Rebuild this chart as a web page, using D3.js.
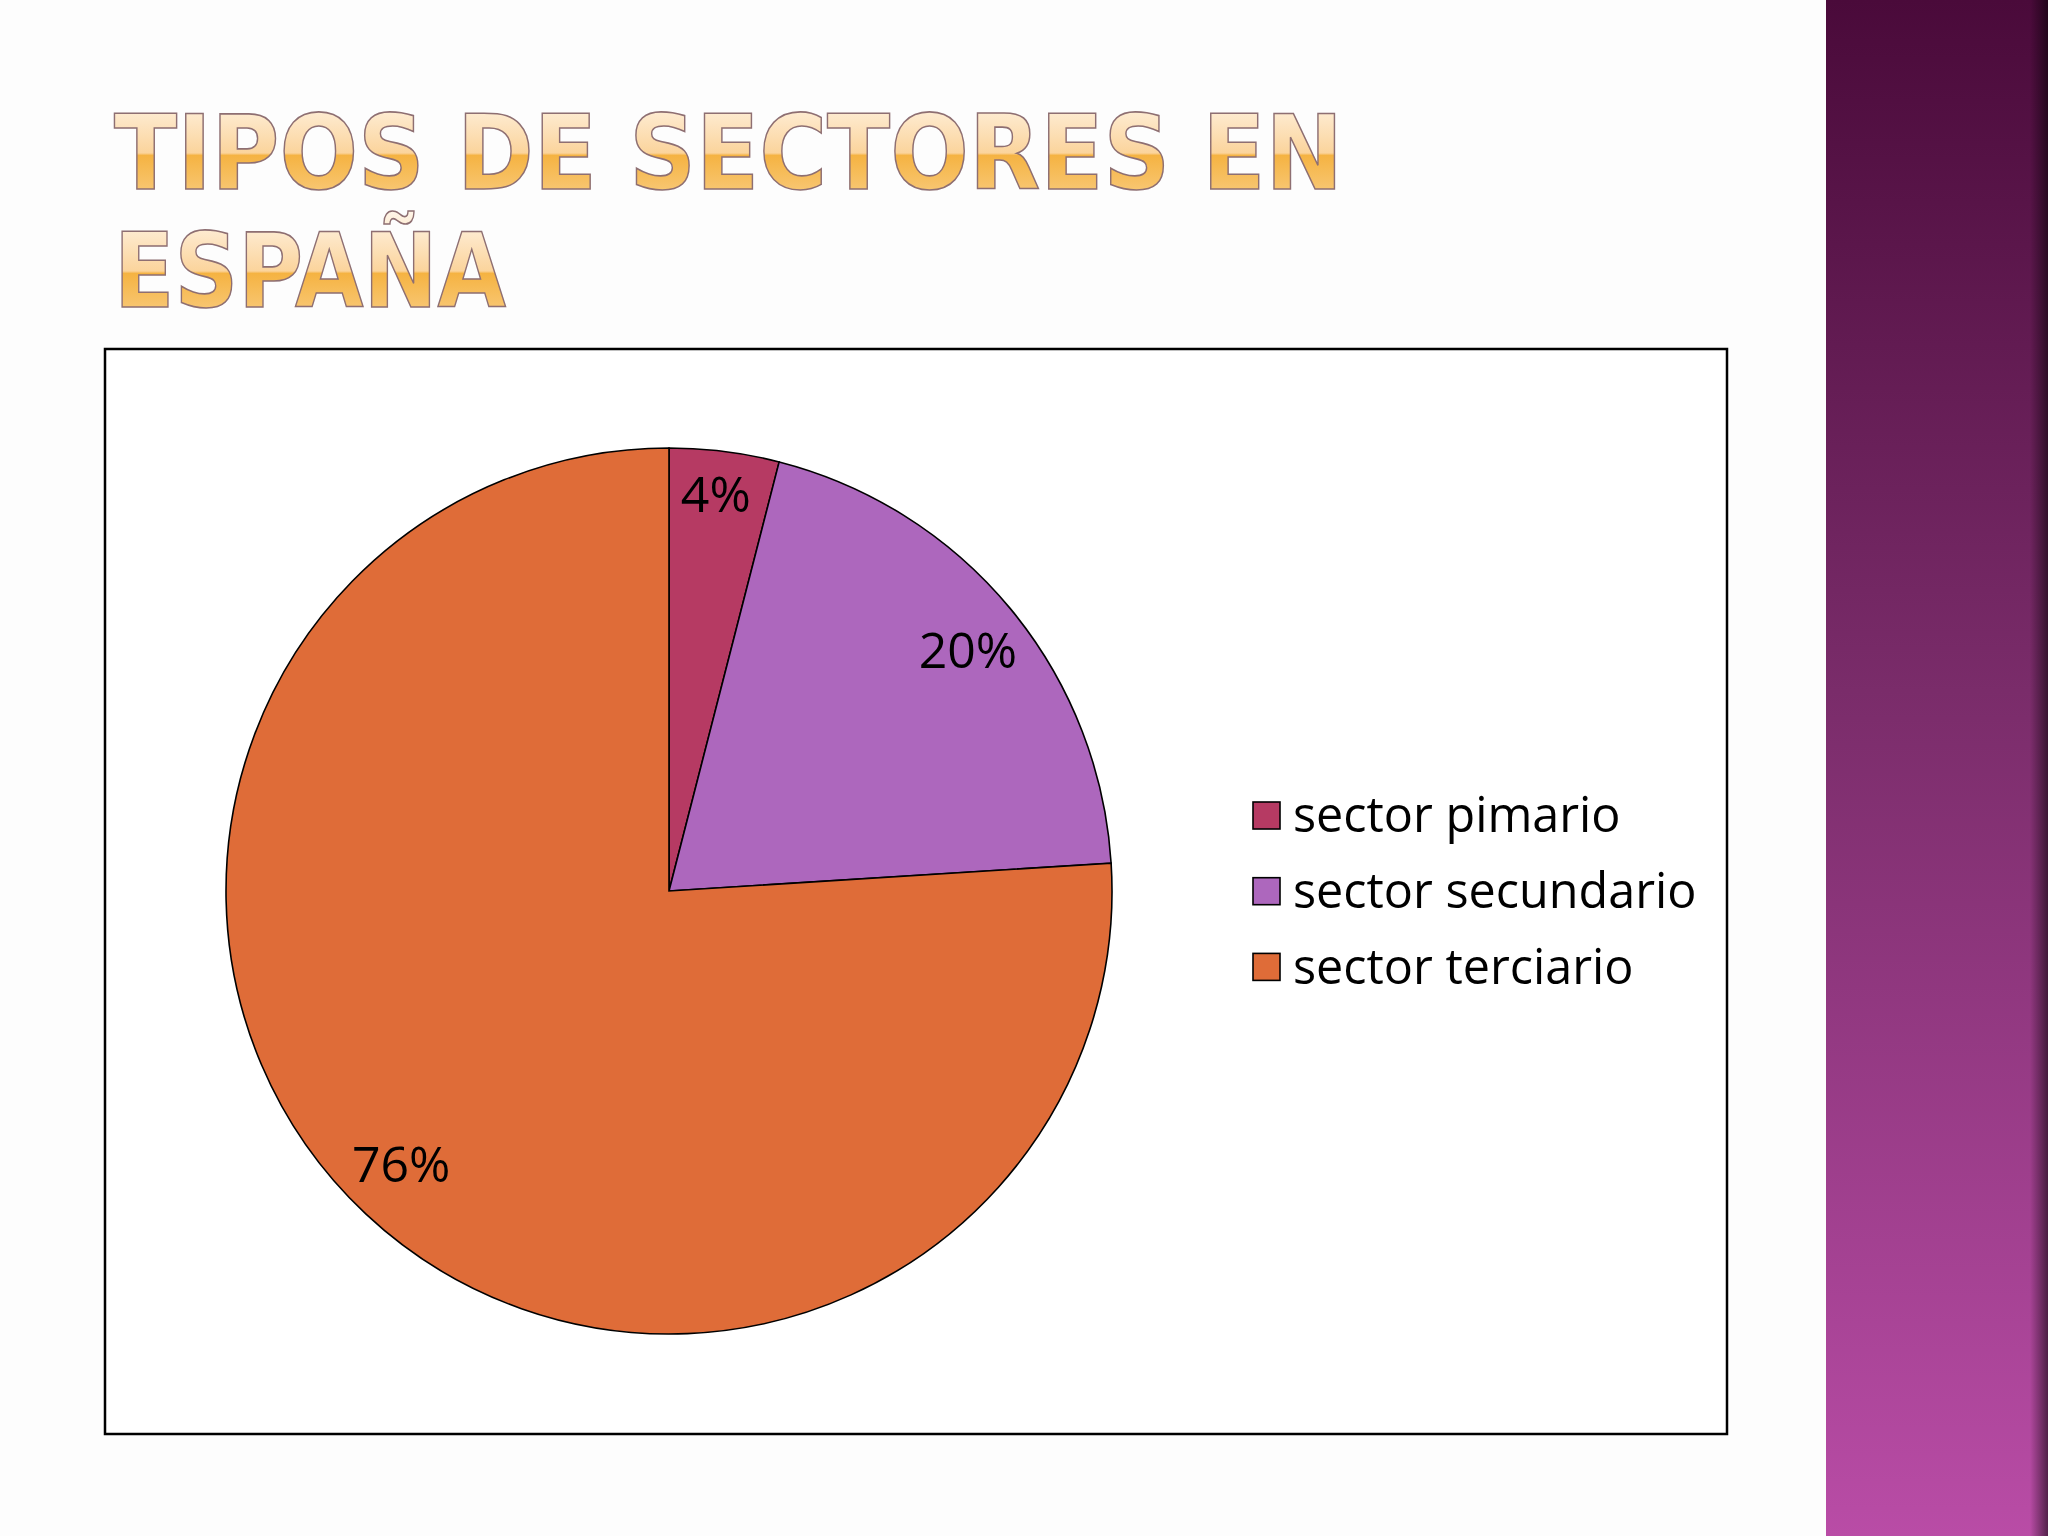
<!DOCTYPE html>
<html>
<head>
<meta charset="utf-8">
<script src="https://cdn.jsdelivr.net/npm/d3@7"></script>
<style>
  body { margin: 0; background: #fdfdfd; }
  svg { display: block; }
</style>
</head>
<body>
<div id="slide"></div>
<script>
// Data
const sectors = ["sector pimario", "sector secundario", "sector terciario"];
const shares = [4, 20, 76];
const colors = ["#b63a63", "#ad67bd", "#df6c38"];
const titleLines = ["TIPOS DE SECTORES EN", "ESPAÑA"];

const W = 2048, H = 1536;

const svg = d3.select("#slide")
    .append("svg")
    .attr("width", W)
    .attr("height", H);

const defs = svg.append("defs");

// sidebar gradient
const side = defs.append("linearGradient")
    .attr("id", "side").attr("x1", 0).attr("y1", 0).attr("x2", 0).attr("y2", 1);
side.append("stop").attr("offset", "0%").attr("stop-color", "#4a0a3a");
side.append("stop").attr("offset", "45%").attr("stop-color", "#7a2c6a");
side.append("stop").attr("offset", "100%").attr("stop-color", "#b94ca6");

const edge = defs.append("linearGradient")
    .attr("id", "edge").attr("x1", 0).attr("y1", 0).attr("x2", 1).attr("y2", 0);
edge.append("stop").attr("offset", "0%").attr("stop-color", "#000").attr("stop-opacity", 0);
edge.append("stop").attr("offset", "100%").attr("stop-color", "#000").attr("stop-opacity", 0.55);

// title gradient
const tg = defs.append("linearGradient")
    .attr("id", "titleFill").attr("x1", 0).attr("y1", 0).attr("x2", 0).attr("y2", 1);
tg.append("stop").attr("offset", "0%").attr("stop-color", "#fff6ea");
tg.append("stop").attr("offset", "50%").attr("stop-color", "#fbd49c");
tg.append("stop").attr("offset", "52%").attr("stop-color", "#f5b342");
tg.append("stop").attr("offset", "100%").attr("stop-color", "#fad391");

svg.append("rect").attr("width", W).attr("height", H).attr("fill", "#fdfdfd");

// Purple sidebar on the right
svg.append("rect")
    .attr("x", 1826).attr("y", 0)
    .attr("width", W - 1826).attr("height", H)
    .attr("fill", "url(#side)");
svg.append("rect")
    .attr("x", 2030).attr("y", 0)
    .attr("width", 18).attr("height", H)
    .attr("fill", "url(#edge)");

// Title
svg.append("g")
  .selectAll("text")
  .data(titleLines)
  .join("text")
    .attr("x", 114)
    .attr("y", (d, i) => 189 + i * 118)
    .attr("textLength", (d, i) => i === 0 ? 1229 : 392)
    .attr("lengthAdjust", "spacingAndGlyphs")
    .style("font-family", "'DejaVu Sans', sans-serif")
    .style("font-weight", "bold")
    .style("font-size", "104px")
    .attr("fill", "url(#titleFill)")
    .attr("stroke", "#8e6f72")
    .attr("stroke-width", 1.6)
    .text(d => d);

// Chart frame
svg.append("rect")
    .attr("x", 105).attr("y", 349)
    .attr("width", 1622).attr("height", 1085)
    .attr("fill", "#fff")
    .attr("stroke", "#000")
    .attr("stroke-width", 2.5);

// Pie
const cx = 669, cy = 891, radius = 443;
const pie = d3.pie().sort(null).value(d => d);
const arcs = pie(shares);
const arc = d3.arc().innerRadius(0).outerRadius(radius);

const g = svg.append("g").attr("transform", `translate(${cx},${cy})`);

g.selectAll("path")
  .data(arcs)
  .join("path")
    .attr("d", arc)
    .attr("fill", (d, i) => colors[i])
    .attr("stroke", "#000")
    .attr("stroke-width", 1.6);

g.selectAll("text")
  .data(arcs)
  .join("text")
    .attr("transform", d => {
        const r = d.data < 10 ? radius * 0.9 : radius * 0.865;
        const shift = d.data < 10 ? -0.008 : (d.data > 50 ? 0.02 : 0.015);
        const a = (d.startAngle + d.endAngle) / 2 + shift;
        return `translate(${Math.sin(a) * r},${-Math.cos(a) * r})`;
    })
    .attr("dy", "0.34em")
    .attr("text-anchor", "middle")
    .style("font-family", "'Open Sans', sans-serif")
    .style("font-size", "50px")
    .attr("fill", "#000")
    .text(d => d.data + "%");

// Legend
const legend = svg.append("g").attr("transform", "translate(1253,815)");
const rows = legend.selectAll("g")
  .data(sectors)
  .join("g")
    .attr("transform", (d, i) => `translate(0,${i * 75.7})`);

rows.append("rect")
    .attr("x", 0).attr("y", -13)
    .attr("width", 27).attr("height", 27)
    .attr("fill", (d, i) => colors[i])
    .attr("stroke", "#000")
    .attr("stroke-width", 1.6);

rows.append("text")
    .attr("x", 40)
    .attr("dy", "0.36em")
    .style("font-family", "'Open Sans', sans-serif")
    .style("font-size", "48.5px")
    .attr("fill", "#000")
    .text(d => d);
</script>
</body>
</html>
